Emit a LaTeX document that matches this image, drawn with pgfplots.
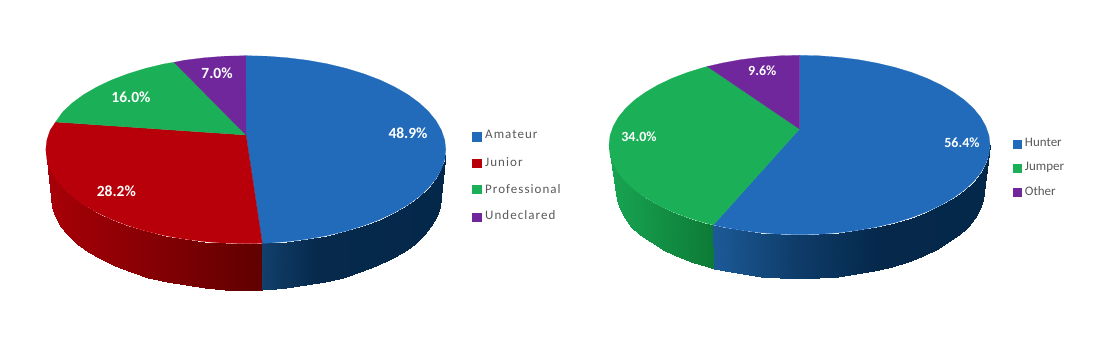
\documentclass[border=0pt]{standalone}
\usepackage{pgfplots}
\pgfplotsset{compat=1.18}
\usepackage{fontspec}
\setmainfont{Carlito}
\newfontfamily\legfont[LetterSpace=8]{Carlito}
\definecolor{cblue}{RGB}{33,107,186}
\definecolor{cred}{RGB}{184,0,10}
\definecolor{cgreen}{RGB}{27,176,88}
\definecolor{cpurple}{RGB}{112,39,155}
\definecolor{ctxt}{RGB}{89,89,89}
\pgfplotsset{
 colormap={redL}{rgb255(0cm)=(168,0,8) rgb255(10cm)=(96,0,0)},
 colormap={blueL}{rgb255(0cm)=(18,63,107) rgb255(3cm)=(6,41,76) rgb255(10cm)=(4,40,74)},
 colormap={blueR}{rgb255(0cm)=(28,90,151) rgb255(3cm)=(14,60,105) rgb255(6cm)=(5,40,75) rgb255(10cm)=(4,40,74)},
 colormap={greenR}{rgb255(0cm)=(24,165,82) rgb255(10cm)=(13,122,54)},
 side/.style={surf,shader=interp,mesh/rows=2,point meta=x,point meta rel=per plot},
 top/.style={fill=#1,draw=#1,line width=.2pt},
}
\begin{document}
\begin{tikzpicture}
\path (0,0) rectangle (1111pt,354pt);
\begin{axis}[scale only axis,width=1111pt,height=354pt,xmin=0,xmax=1111,ymin=0,ymax=354,y dir=reverse,hide axis,clip=false,anchor=south west,at={(0,0)}]
% left pie, sides
\addplot[side,colormap name=redL] table {
x y
45.8 149.7
46.9 159.5
50.2 169.2
55.6 178.7
63.1 187.9
72.6 196.7
84.0 205.0
97.2 212.6
112.0 219.6
128.2 225.7
145.8 231.1
164.5 235.6
184.0 239.1
204.2 241.6
224.9 243.2
245.8 243.7
262.3 243.4
50.8 197.0
51.9 206.7
55.1 216.3
60.3 225.7
67.7 234.8
76.9 243.5
88.0 251.7
100.9 259.2
115.3 266.1
131.2 272.2
148.3 277.5
166.5 282.0
185.5 285.4
205.3 288.0
225.4 289.5
245.8 290.0
262.3 289.7
};
\addplot[side,colormap name=blueL] table {
x y
262.3 243.4
266.7 243.2
287.4 241.6
307.6 239.1
327.1 235.6
345.8 231.1
363.4 225.7
379.6 219.6
394.4 212.6
407.6 205.0
419.0 196.7
428.5 187.9
436.0 178.7
441.4 169.2
444.7 159.5
445.8 149.7
262.3 289.7
266.2 289.5
286.3 288.0
306.1 285.4
325.1 282.0
343.3 277.5
360.4 272.2
376.3 266.1
390.7 259.2
403.6 251.7
414.7 243.5
423.9 234.8
431.3 225.7
436.5 216.3
439.7 206.7
440.8 197.0
};
% left pie, top
\addplot[top=cblue] coordinates {(246,135)(245.8,55.7)(266.7,56.2)(287.4,57.8)(307.6,60.3)(327.1,63.8)(345.8,68.3)(363.4,73.7)(379.6,79.8)(394.4,86.8)(407.6,94.4)(419.0,102.7)(428.5,111.5)(436.0,120.7)(441.4,130.2)(444.7,139.9)(445.8,149.7)(444.7,159.5)(441.4,169.2)(436.0,178.7)(428.5,187.9)(419.0,196.7)(407.6,205.0)(394.4,212.6)(379.6,219.6)(363.4,225.7)(345.8,231.1)(327.1,235.6)(307.6,239.1)(287.4,241.6)(266.7,243.2)(262.3,243.4)(246,135)};
\addplot[top=cred] coordinates {(246,135)(262.3,243.4)(245.8,243.7)(224.9,243.2)(204.2,241.6)(184.0,239.1)(164.5,235.6)(145.8,231.1)(128.2,225.7)(112.0,219.6)(97.2,212.6)(84.0,205.0)(72.6,196.7)(63.1,187.9)(55.6,178.7)(50.2,169.2)(46.9,159.5)(45.8,149.7)(46.9,139.9)(50.2,130.2)(55.6,122.0)(246,135)};
\addplot[top=cgreen] coordinates {(246,135)(55.6,122.0)(63.1,111.5)(72.6,102.7)(84.0,94.4)(97.2,86.8)(112.0,79.8)(128.2,73.7)(145.8,68.3)(164.5,63.8)(174,62.3)(246,135)};
\addplot[top=cpurple] coordinates {(246,135)(174,62.3)(184.0,60.3)(204.2,57.8)(224.9,56.2)(245.8,55.7)(246,135)};
% right pie, sides
\addplot[side,colormap name=greenR] table {
x y
609.0 145.0
610.0 154.4
613.2 163.6
618.3 172.7
625.5 181.5
634.5 189.9
645.4 197.7
657.9 205.0
672.0 211.7
687.5 217.6
704.2 222.7
713.3 225.0
615.5 190.7
616.5 199.9
619.5 209.0
624.5 217.9
631.4 226.5
640.2 234.7
650.6 242.4
662.8 249.6
676.4 256.1
691.3 261.9
707.5 266.9
714.3 268.5
};
\addplot[side,colormap name=blueR] table {
x y
713.3 225.0
722.0 226.9
740.6 230.3
759.9 232.7
779.6 234.2
799.5 234.7
819.4 234.2
839.1 232.7
858.4 230.3
877.0 226.9
894.8 222.7
911.5 217.6
927.0 211.7
941.1 205.0
953.6 197.7
964.5 189.9
973.5 181.5
980.7 172.7
985.8 163.6
989.0 154.4
990.0 145.0
714.3 268.5
724.7 271.1
742.6 274.4
761.2 276.8
780.3 278.2
799.5 278.7
818.7 278.2
837.8 276.8
856.4 274.4
874.3 271.1
891.5 266.9
907.7 261.9
922.6 256.1
936.2 249.6
948.4 242.4
958.8 234.7
967.6 226.5
974.5 217.9
979.5 209.0
982.5 199.9
983.5 190.7
};
% right pie, top
\addplot[top=cblue] coordinates {(799.5,129)(799.5,55.3)(819.4,55.8)(839.1,57.3)(858.4,59.7)(877.0,63.1)(894.8,67.3)(911.5,72.4)(927.0,78.3)(941.1,85.0)(953.6,92.3)(964.5,100.1)(973.5,108.5)(980.7,117.3)(985.8,126.4)(989.0,135.6)(990.0,145.0)(989.0,154.4)(985.8,163.6)(980.7,172.7)(973.5,181.5)(964.5,189.9)(953.6,197.7)(941.1,205.0)(927.0,211.7)(911.5,217.6)(894.8,222.7)(877.0,226.9)(858.4,230.3)(839.1,232.7)(819.4,234.2)(799.5,234.7)(779.6,234.2)(759.9,232.7)(740.6,230.3)(722.0,226.9)(713.3,225.0)(799.5,129)};
\addplot[top=cgreen] coordinates {(799.5,129)(713.3,225.0)(704.2,222.7)(687.5,217.6)(672.0,211.7)(657.9,205.0)(645.4,197.7)(634.5,189.9)(625.5,181.5)(618.3,172.7)(613.2,163.6)(610.0,154.4)(609.0,145.0)(610.0,135.6)(613.2,126.4)(618.3,117.3)(625.5,108.5)(634.5,100.1)(645.4,92.3)(657.9,85.0)(672.0,78.3)(687.5,72.4)(704.2,67.3)(707.3,66.5)(799.5,129)};
\addplot[top=cpurple] coordinates {(799.5,129)(707.3,66.5)(722.0,63.1)(740.6,59.7)(759.9,57.3)(779.6,55.8)(799.5,55.3)(799.5,129)};
% legend swatches
\addplot[only marks,mark=square*,mark size=4.1pt,color=cblue] coordinates {(476.6,136.7)(1017,144)};
\addplot[only marks,mark=square*,mark size=4.1pt,color=cred] coordinates {(476.6,163.3)};
\addplot[only marks,mark=square*,mark size=4.1pt,color=cgreen] coordinates {(476.6,189.3)(1017,168.3)};
\addplot[only marks,mark=square*,mark size=4.1pt,color=cpurple] coordinates {(476.6,217)(1017,192)};
% data labels
\begin{scope}[every node/.style={inner sep=0pt,text=white,font=\fontsize{15.5}{16}\selectfont\bfseries}]
\node at (axis cs:217,73.3) {7.0\%};
\node at (axis cs:131,97.3) {16.0\%};
\node at (axis cs:408,133.7) {48.9\%};
\node at (axis cs:116.3,191.7) {28.2\%};
\end{scope}
\begin{scope}[every node/.style={inner sep=0pt,text=white,font=\fontsize{14}{15}\selectfont\bfseries}]
\node at (axis cs:762.3,70.7) {9.6\%};
\node at (axis cs:639,136.7) {34.0\%};
\node at (axis cs:962,142.7) {56.4\%};
\end{scope}
% legend text
\begin{scope}[every node/.style={inner sep=0pt,anchor=west,text=ctxt,font=\fontsize{13}{14}\selectfont\legfont}]
\node at (axis cs:485,134.5) {Amateur};
\node at (axis cs:485,162.3) {Junior};
\node at (axis cs:485,189) {Professional};
\node at (axis cs:485,215.3) {Undeclared};
\end{scope}
\begin{scope}[every node/.style={inner sep=0pt,anchor=west,text=ctxt,font=\fontsize{13}{14}\selectfont}]
\node at (axis cs:1024.7,142.3) {Hunter};
\node at (axis cs:1024.7,167.7) {Jumper};
\node at (axis cs:1024.7,190.7) {Other};
\end{scope}
\end{axis}
\end{tikzpicture}
\end{document}
